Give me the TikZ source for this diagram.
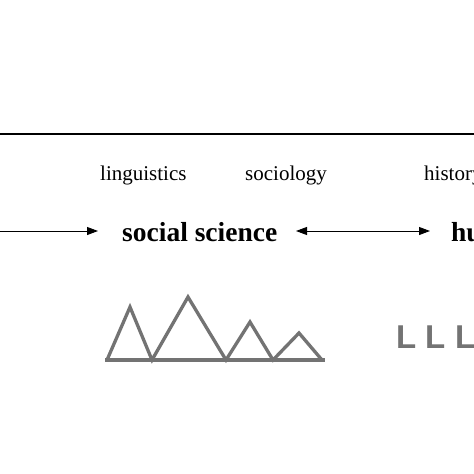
\documentclass[tikz,border=0pt]{standalone}
\usepackage{fontspec}
\setmainfont{Liberation Serif}
\newfontfamily\lsans{Liberation Sans}
\usetikzlibrary{arrows.meta}
\definecolor{shapegray}{HTML}{737373}
\tikzset{
  small/.style={font=\fontsize{21}{24}\selectfont, inner sep=0pt, anchor=base west},
  big/.style={font=\fontsize{27.5}{30}\selectfont\bfseries, inner sep=0pt, anchor=base west},
  ell/.style={font=\fontsize{33}{35}\selectfont\lsans\bfseries, text=shapegray, inner sep=0pt, anchor=base west},
  arr/.style={line width=0.9pt, -{Triangle[length=11pt,width=8pt]}},
  darr/.style={line width=0.9pt, {Triangle[length=11pt,width=8pt]}-{Triangle[length=11pt,width=8pt]}},
}
\begin{document}
\begin{tikzpicture}[x=1pt,y=-1pt]
\useasboundingbox (0,0) rectangle (474,474);
\clip (0,0) rectangle (474,474);
\fill[white] (0,0) rectangle (474,474);
% top rule
\coordinate (ruleL) at (0,134);
\coordinate (ruleR) at (474,134);
\draw[line width=2.4pt] (ruleL) -- (ruleR);
% labels
\node[small] (ling) at (100,180) {linguistics};
\node[small] (soc) at (245,180) {sociology};
\node[small] (hist) at (424,180) {history};
\node[big] (socsci) at (122,241) {social science};
\node[big] (hum) at (451,241) {humanities};
% arrows
\coordinate (arrL) at (0,231);
\coordinate (tip1) at (98,231);
\draw[arr] (arrL) -- (tip1);
\coordinate (tip2a) at (296,231);
\coordinate (tip2b) at (430,231);
\draw[darr] (tip2a) -- (tip2b);
% mountains
\draw[shapegray, line width=3.3pt, line join=miter]
  (107,360) -- (130,307) -- (152,360) -- (188,297) -- (226,360)
  -- (250,322) -- (273,360) -- (299,333) -- (322,360);
\draw[shapegray, line width=3.3pt] (105,360) -- (325,360);
% L letters
\node[ell] (L1) at (396,348) {L};
\node[ell] (L2) at (425,348) {L};
\node[ell] (L3) at (455,348) {L};
\end{tikzpicture}
\end{document}
